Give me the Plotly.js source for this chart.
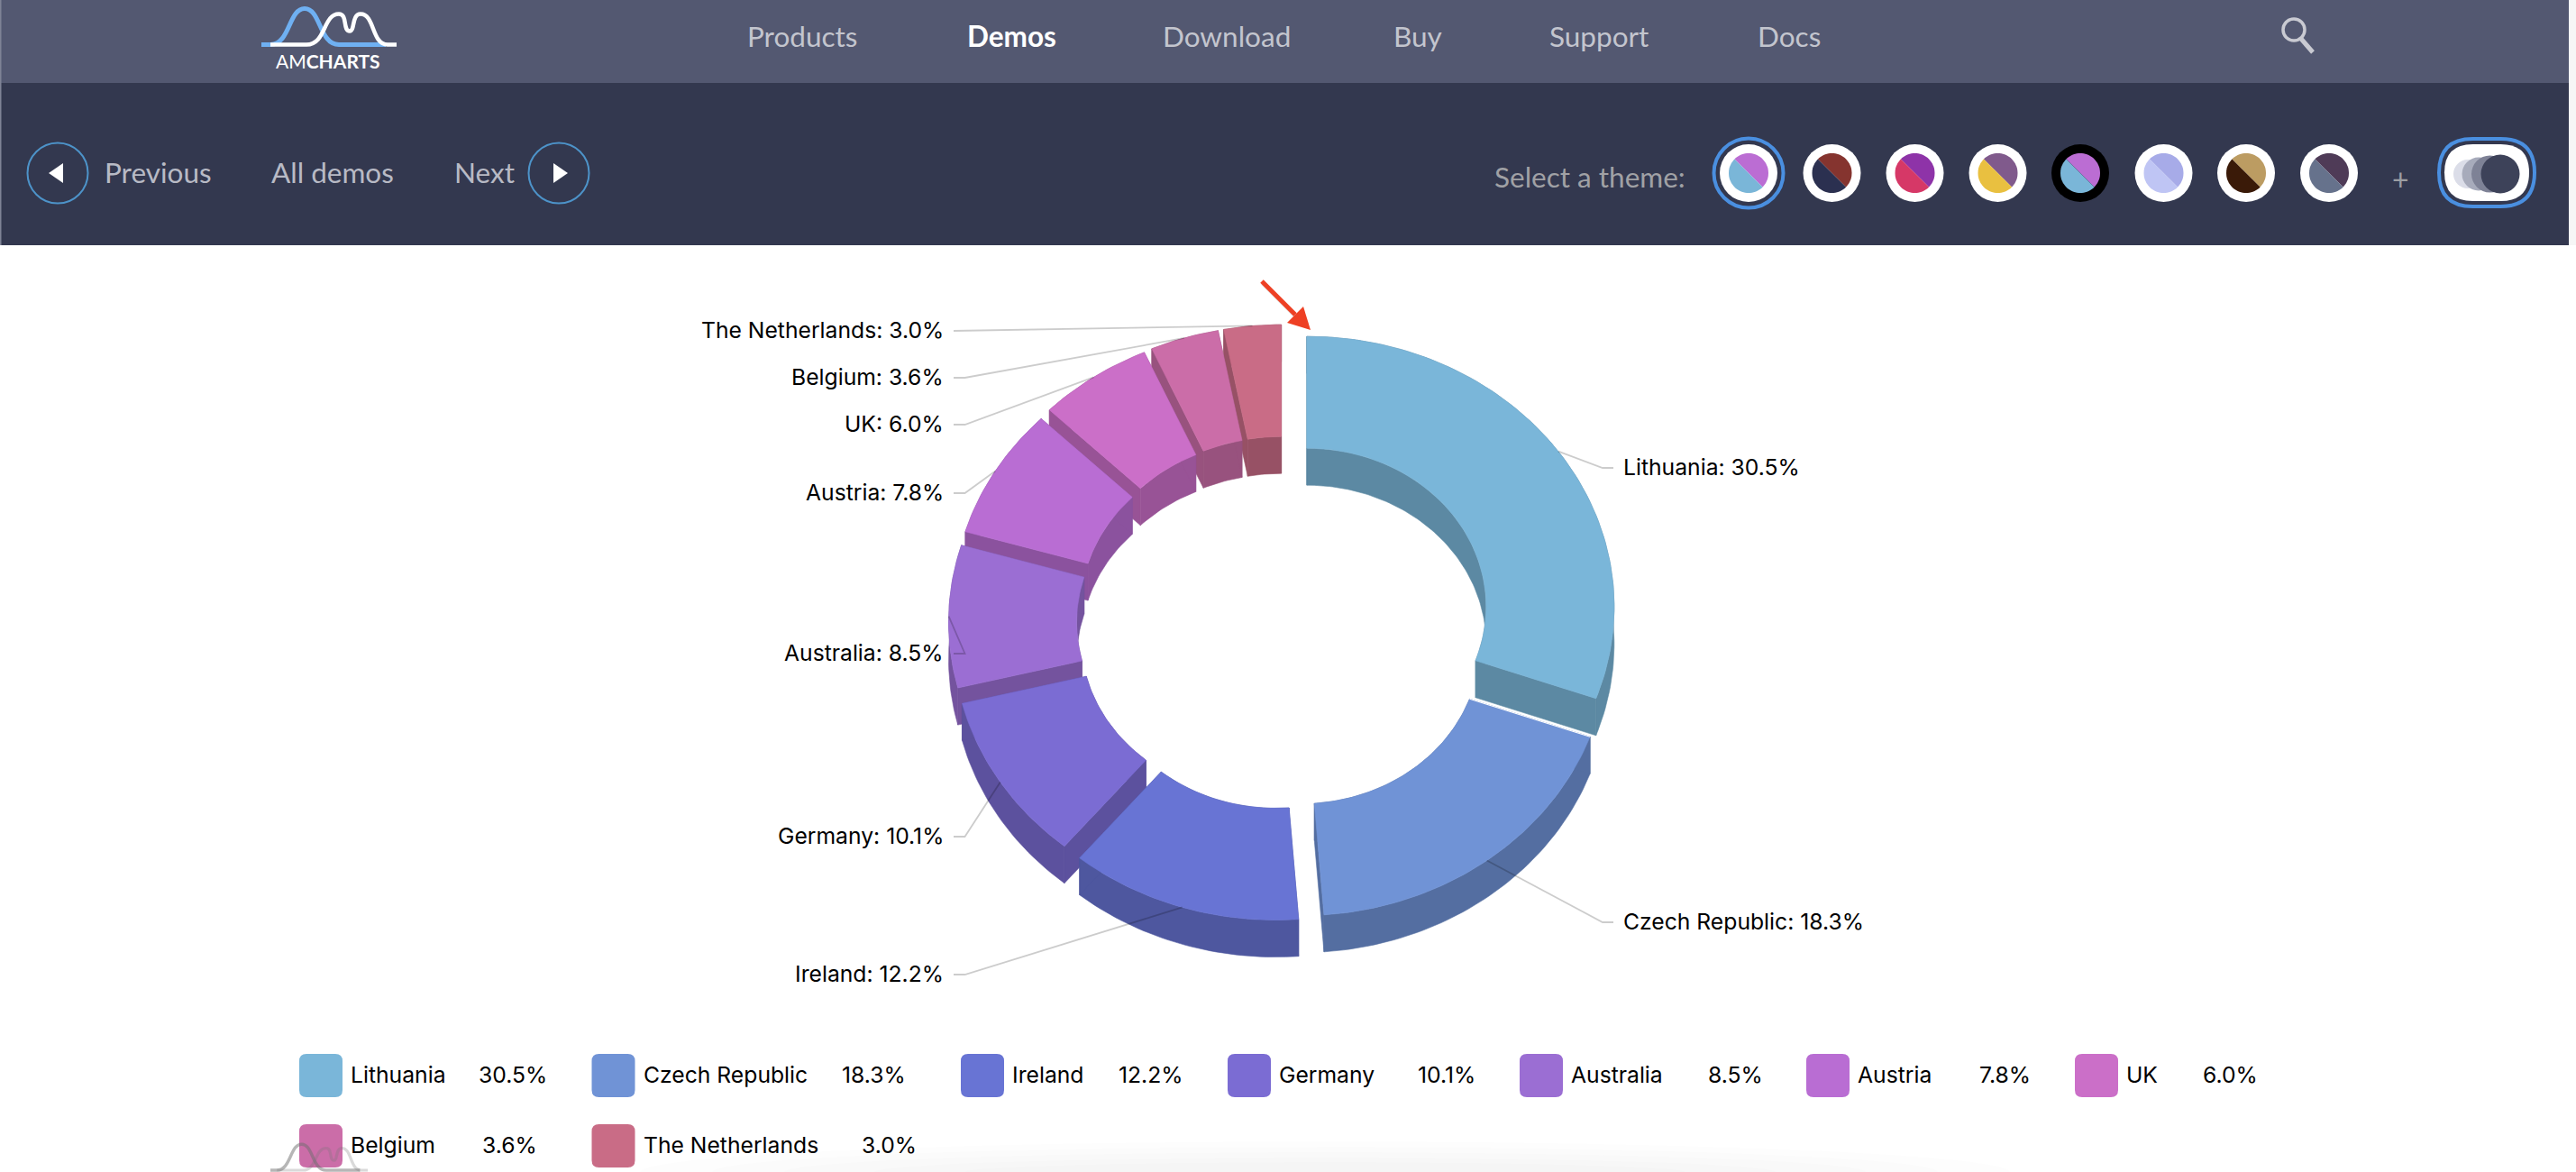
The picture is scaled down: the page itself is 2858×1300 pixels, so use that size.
<!DOCTYPE html>
<html>
<head>
<meta charset="utf-8">
<script src="https://cdn.plot.ly/plotly-3.0.1.min.js"></script>
<style>html,body{margin:0;padding:0;background:#fff;overflow:hidden}#chart{width:2858px;height:1300px}</style>
</head>
<body>
<div id="chart"></div>
<script>
// ---------- chart data ----------
const categories = ["Lithuania","Czech Republic","Ireland","Germany","Australia","Austria","UK","Belgium","The Netherlands"];
const percents = [30.5,18.3,12.2,10.1,8.5,7.8,6.0,3.6,3.0];
const sliceColors = ["#7AB6D9","#7093D6","#6874D4","#7B6CD3","#9B6ED3","#B96DD3","#CB6FC8","#CB6DA8","#C96C86"];
const navItems = ["Products","Demos","Download","Buy","Support","Docs"];
const themeUpper = ["#BB6DD3","#85342F","#8E33A8","#805A8C","#BB6DD3","#A7ABE8","#BC9C62","#4F3B57"];
const themeLower = ["#7AB6D8","#2B3050","#D63867","#E9C040","#7AB6D8","#BFC5F4","#3A1A08","#66728C"];

// ---------- donut geometry ----------
const FONT = "Inter, sans-serif";
const NAVFONT = "Lato, sans-serif";
const TXT = 24.7, NAVTXT = 31.5;
const C0 = {x:1424.5, y:691}, PULL = 31, RX = 341, RY = 300, rx = 199, ry = 176, DEPTH = 41;
const rad = d => d*Math.PI/180;
function shade(hex,f){const n=parseInt(hex.slice(1),16);
  const c=[n>>16&255,n>>8&255,n&255].map(v=>Math.round(v*f));
  return `rgb(${c[0]},${c[1]},${c[2]})`;}

let acc = 0;
const total = percents.reduce((a,b)=>a+b,0);
const slices = categories.map((name,i)=>{
  const a0 = acc/total*360; acc += percents[i]; const a1 = acc/total*360; const m=(a0+a1)/2;
  return {name,i,a0,a1,m,cx:C0.x+PULL*Math.sin(rad(m)),cy:C0.y-PULL*Math.cos(rad(m))};
});
function pt(s,a,Rx,Ry,dz){return [s.cx+Rx*Math.sin(rad(a)), s.cy-Ry*Math.cos(rad(a))+(dz||0)];}
function arc(s,a0,a1,Rx,Ry,dz){const n=Math.max(2,Math.ceil(Math.abs(a1-a0)/1.2));const o=[];
  for(let k=0;k<=n;k++)o.push(pt(s,a0+(a1-a0)*k/n,Rx,Ry,dz));return o;}
function polyTrace(pts,color,name){
  const closed=pts.concat([pts[0]]);
  return {type:"scatter",mode:"lines",x:closed.map(p=>p[0]),y:closed.map(p=>p[1]),fill:"toself",fillcolor:color,line:{width:0.6,color},hoverinfo:"skip",showlegend:false,name:name||""};
}

const traces=[];
[...slices].sort((p,q)=>p.cy-q.cy).forEach(s=>{
  const base=sliceColors[s.i], wall=shade(base,0.75);
  traces.push(polyTrace(arc(s,s.a0,s.a1,rx,ry,0).concat(arc(s,s.a1,s.a0,rx,ry,DEPTH)),wall));
  traces.push(polyTrace(arc(s,s.a0,s.a1,RX,RY,0).concat(arc(s,s.a1,s.a0,RX,RY,DEPTH)),wall));
  [s.a0,s.a1].forEach(a=>traces.push(polyTrace([pt(s,a,rx,ry,0),pt(s,a,RX,RY,0),pt(s,a,RX,RY,DEPTH),pt(s,a,rx,ry,DEPTH)],wall)));
  traces.push(polyTrace(arc(s,s.a0,s.a1,RX,RY,0).concat(arc(s,s.a1,s.a0,rx,ry,0)),base,s.name));
  if(s.i===1){
    const e0=pt(s,s.a0,rx,ry,0),e1=pt(s,s.a0,RX,RY,0);
    traces.push({type:"scatter",mode:"lines",x:[e0[0],e1[0]],y:[e0[1],e1[1]],line:{width:1.2,color:"#ffffff"},hoverinfo:"skip",showlegend:false});
  }
});

// ---------- labels + leader lines ----------
const annotations=[];
const labelY=[519,1023,1081,928,725,547,471,419,367];
slices.forEach(s=>{
  const right=s.m<180, y=labelY[s.i], e=pt(s,s.m,RX,RY,0);
  const knee=right?1778:1070.5, end=right?1790:1058;
  traces.push({type:"scatter",mode:"lines",x:[e[0],knee,end],y:[e[1],y,y],line:{width:1.8,color:"rgba(0,0,0,0.2)"},hoverinfo:"skip",showlegend:false});
  annotations.push({x:right?1798.5:1049,y:y-1,xref:"x",yref:"y",xanchor:right?"left":"right",yanchor:"middle",showarrow:false,
    text:`${s.name}: ${percents[s.i].toFixed(1)}%`,font:{family:FONT,size:TXT,color:"#000"}});
});

// ---------- legend ----------
const legendPos=[[332,1193,606],[656.5,1193,1004],[1066,1193,1312],[1362,1193,1636],[1686,1193,1955],[2004,1193,2252],[2302,1193,2504],[332,1271,595],[656.5,1271,1016]];
const shapes=[];
function rrect(x,y,w,h,r){return `M${x+r},${y} H${x+w-r} Q${x+w},${y} ${x+w},${y+r} V${y+h-r} Q${x+w},${y+h} ${x+w-r},${y+h} H${x+r} Q${x},${y+h} ${x},${y+h-r} V${y+r} Q${x},${y} ${x+r},${y} Z`;}
function polyPath(pts){return "M"+pts.map(p=>p[0].toFixed(1)+","+p[1].toFixed(1)).join(" L")+" Z";}
function rect(x0,y0,x1,y1,c,layer){shapes.push({type:"rect",xref:"x",yref:"y",x0,y0,x1,y1,fillcolor:c,line:{width:0},layer:layer||"below"});}
function circle(cx,cy,r,fill,stroke,sw){shapes.push({type:"circle",xref:"x",yref:"y",x0:cx-r,y0:cy-r,x1:cx+r,y1:cy+r,fillcolor:fill||"rgba(0,0,0,0)",line:{width:sw||0,color:stroke||"rgba(0,0,0,0)"},layer:"below"});}
function path(d,fill,stroke,sw,layer,op){shapes.push({type:"path",xref:"x",yref:"y",path:d,fillcolor:fill||"rgba(0,0,0,0)",line:{width:sw||0,color:stroke||"rgba(0,0,0,0)"},layer:layer||"below",opacity:op==null?1:op});}

categories.forEach((name,i)=>{
  const [x,y,endx]=legendPos[i];
  path(rrect(x,y-24,48,48,8),sliceColors[i]);
  annotations.push({x:x+55,y:y-1,xref:"x",yref:"y",xanchor:"left",yanchor:"middle",showarrow:false,text:name,font:{family:FONT,size:TXT,color:"#000"}});
  annotations.push({x:endx+3,y:y-1,xref:"x",yref:"y",xanchor:"right",yanchor:"middle",showarrow:false,text:percents[i].toFixed(1)+"%",font:{family:FONT,size:TXT,color:"#000"}});
});

// ---------- page chrome ----------
rect(0,0,2858,92,"#535871");
rect(0,92,2858,272,"#33384F");
rect(0,0,1.5,272,"#7F8396");
rect(2850,0,2858,272,"#F6F6F6");

// bottom glow
[[760,34],[680,28],[600,22],[500,16],[400,11]].forEach(g=>{
  shapes.push({type:"circle",xref:"x",yref:"y",x0:1470-g[0],x1:1470+g[0],y0:1300-g[1],y1:1300+g[1],fillcolor:"rgba(0,0,0,0.007)",line:{width:0},layer:"below"});
});

// logo
function logo(x,y,k,blue,white,sw1,sw2,layer,op){
  const X=v=>(x+v*k).toFixed(1),Y=v=>(y+v*k).toFixed(1);
  path(`M${X(0)},${Y(0)} L${X(10)},${Y(0)} C${X(32)},${Y(0)} ${X(30)},${Y(-40)} ${X(48)},${Y(-40)} C${X(66)},${Y(-40)} ${X(64)},${Y(0)} ${X(86)},${Y(0)} L${X(138)},${Y(0)}`,null,blue,sw1,layer,op);
  path(`M${X(10)},${Y(0)} L${X(50)},${Y(0)} C${X(72)},${Y(0)} ${X(68)},${Y(-34)} ${X(86)},${Y(-34)} C${X(96)},${Y(-34)} ${X(90)},${Y(-15)} ${X(98)},${Y(-15)} C${X(104)},${Y(-15)} ${X(100)},${Y(-34)} ${X(110)},${Y(-34)} C${X(126)},${Y(-34)} ${X(122)},${Y(0)} ${X(140)},${Y(0)} L${X(150)},${Y(0)}`,null,white,sw2,layer,op);
}
logo(290,49.5,1,"#6FB0F2","#FFFFFF",5,4.5);
annotations.push({x:364,y:67,xref:"x",yref:"y",xanchor:"center",yanchor:"middle",showarrow:false,text:"AM<b>CHARTS</b>",font:{family:NAVFONT,size:21,color:"#fff"}});

// nav
const navX=[890,1122.5,1361,1573,1773.5,1985];
navItems.forEach((t,i)=>annotations.push({x:navX[i],y:40,xref:"x",yref:"y",xanchor:"center",yanchor:"middle",showarrow:false,
  text:i===1?`<b>${t}</b>`:t,font:{family:NAVFONT,size:NAVTXT,color:i===1?"#fff":"#C3C5CE"}}));
// search
circle(2545,33,12,null,"#C9CAD2",3.5);
path("M2553,43 L2566,58",null,"#C9CAD2",5);

// previous / next
circle(64,192,33.5,null,"#4D93C9",2);
circle(620,192,33.5,null,"#4D93C9",2);
path("M54,192 L70,181 L70,203 Z","#fff");
path("M630,192 L614,181 L614,203 Z","#fff");
[["Previous",175,191],["All demos",369,191],["Next",537,191]].forEach(a=>annotations.push({x:a[1],y:a[2],xref:"x",yref:"y",xanchor:"center",yanchor:"middle",showarrow:false,text:a[0],font:{family:NAVFONT,size:NAVTXT,color:"#B8BAC5"}}));
annotations.push({x:1763.5,y:196,xref:"x",yref:"y",xanchor:"center",yanchor:"middle",showarrow:false,text:"Select a theme:",font:{family:NAVFONT,size:NAVTXT,color:"#A0A1A5"}});
annotations.push({x:2663,y:198,xref:"x",yref:"y",xanchor:"center",yanchor:"middle",showarrow:false,text:"+",font:{family:NAVFONT,size:32,color:"#9C9EA3"}});

// theme swatches
const themeX=[1940,2032.5,2124.5,2216.5,2308,2400.5,2492,2584];
function half(cx,cy,r,a0,a1){const o=[];for(let k=0;k<=36;k++){const a=rad(a0+(a1-a0)*k/36);o.push([cx+r*Math.cos(a),cy+r*Math.sin(a)]);}return polyPath(o);}
themeX.forEach((x,i)=>{
  circle(x,192,32,i===4?"#000":"#fff");
  path(half(x,192,22,-135,45),themeUpper[i]);
  path(half(x,192,22,45,225),themeLower[i]);
});
circle(1940,192,38.5,null,"#4A8FE0",4);

// mode toggle
path(rrect(2706,154,106,75,37.5),null,"#4A8FE0",4);
path(rrect(2712,160,94,63,31.5),"#fff");
circle(2738,193,16,"#DBDDE8");
circle(2750,193,18.5,"#A7ABBB");
circle(2762.5,193,20.5,"#7E8296");
circle(2774,193,21.5,"#3D4259");

// callout arrow
path("M1401,314 L1438,351",null,"rgba(0,0,0,0.12)",5,"above");
path("M1400,312 L1437,349",null,"#EE4024",5,"above");
path("M1454,366 L1446,340 L1428,358 Z","#EE4024",null,0,"above");

// ghost logo at page foot
logo(300,1298,0.72,"rgba(110,110,110,0.5)","rgba(120,120,120,0.28)",3.4,3.2,"above");

const layout={
  width:2858,height:1300,margin:{l:0,r:0,t:0,b:0},paper_bgcolor:"#fff",plot_bgcolor:"rgba(0,0,0,0)",showlegend:false,
  xaxis:{range:[0,2858],visible:false,fixedrange:true},
  yaxis:{range:[1300,0],visible:false,fixedrange:true},
  shapes,annotations
};
Plotly.newPlot("chart",traces,layout,{displayModeBar:false,staticPlot:true});
</script>
</body>
</html>
